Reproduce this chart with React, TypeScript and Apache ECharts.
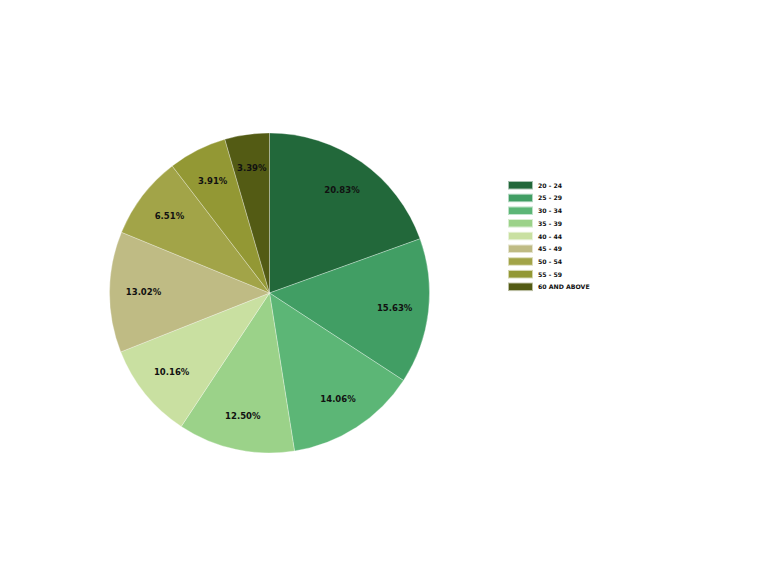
import { useRef, useEffect } from 'react';
import * as echarts from 'echarts';

const groups = ['20 - 24', '25 - 29', '30 - 34', '35 - 39', '40 - 44', '45 - 49', '50 - 54', '55 - 59', '60 AND ABOVE'];
// slice sizes as drawn (the printed percentages don't quite match the wedge angles)
const shares = [19.5, 14.7, 13.3, 11.8, 9.7, 12.2, 8.4, 5.9, 4.5];
const shareLabels = ['20.83%', '15.63%', '14.06%', '12.50%', '10.16%', '13.02%', '6.51%', '3.91%', '3.39%'];
const colors = ['#22683a', '#419e64', '#5cb676', '#9bd289', '#c9e0a1', '#bfbb84', '#a2a448', '#939834', '#535b14'];

const center = [269.5, 293];
const radius = 160;

export default function App() {
  const ref = useRef<HTMLDivElement>(null);

  useEffect(() => {
    document.body.style.margin = '0';
    if (!ref.current) return;
    const chart = echarts.init(ref.current, undefined, { renderer: 'svg' });
    const data = groups.map((name, i) => ({ name, value: shares[i], itemStyle: { color: colors[i] } }));

    chart.setOption({
      animation: false,
      backgroundColor: '#fff',
      legend: {
        orient: 'vertical',
        left: 502,
        top: 175,
        data: groups,
        icon: 'rect',
        itemWidth: 25,
        itemHeight: 8.5,
        itemGap: 2.2,
        selectedMode: false,
        textStyle: { fontFamily: 'DejaVu Sans', fontSize: 6.2, fontWeight: 'bold', color: '#111' },
      },
      series: [
        {
          type: 'pie',
          center,
          radius,
          startAngle: 90,
          clockwise: true,
          silent: true,
          label: { show: false },
          labelLine: { show: false },
          itemStyle: { borderColor: 'rgba(255,255,255,0.6)', borderWidth: 0.5 },
          data,
        },
        {
          // transparent ring only to place labels at ~3/4 of the radius
          type: 'pie',
          center,
          radius: [86, radius],
          startAngle: 90,
          clockwise: true,
          silent: true,
          itemStyle: { color: 'rgba(0,0,0,0)' },
          labelLine: { show: false },
          label: {
            show: true,
            position: 'inside',
            formatter: (p: any) => shareLabels[p.dataIndex],
            fontFamily: 'DejaVu Sans',
            fontSize: 8.5,
            fontWeight: 'bold',
            color: '#111',
          },
          data: groups.map((name, i) => ({ name, value: shares[i] })),
        },
      ],
    });

    return () => chart.dispose();
  }, []);

  return <div ref={ref} style={{ width: 768, height: 576 }} />;
}
